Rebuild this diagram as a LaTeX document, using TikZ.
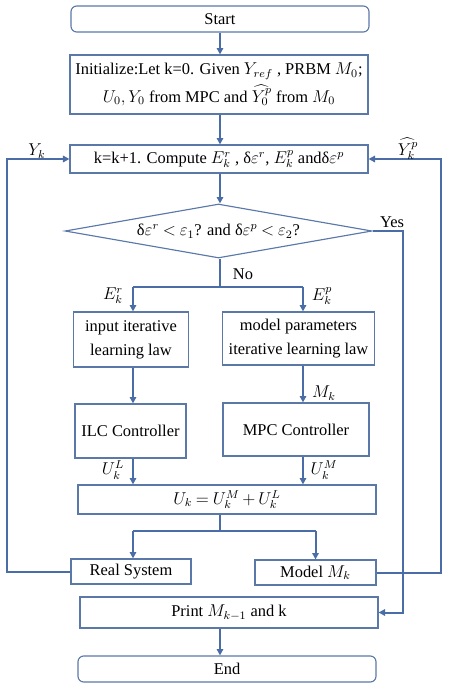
\documentclass[tikz,border=0pt]{standalone}
\usepackage{fontspec}
\setmainfont{Liberation Serif}
\usepackage{tikz}
\usetikzlibrary{arrows.meta, positioning, calc, shapes.geometric}
\definecolor{flow}{HTML}{4A6DA7}
\definecolor{frame}{HTML}{5A78A8}
\newcommand{\tightmath}{\thickmuskip=4mu\relax\medmuskip=3mu\relax}

\begin{document}
\begin{tikzpicture}[x=0.7pt, y=-0.7pt,
  box/.style={draw=frame, line width=0.8pt, align=center, inner sep=1pt, font=\fontsize{11.5}{19}\selectfont},
  term/.style={box, rounded corners=4pt},
  arr/.style={draw=flow, line width=1.4pt, -{Triangle[width=4.5pt,length=4.5pt]}},
  lne/.style={draw=flow, line width=1.4pt},
  lbl/.style={font=\fontsize{11.5}{13}\selectfont, inner sep=0pt}
]
\useasboundingbox (0,0) rectangle (448,688);
% main column
\node[term, minimum width=208.6pt, minimum height=18.2pt] (start) at (220,19) {Start};
\node[box, minimum width=208.6pt, minimum height=41.3pt] (init) at (219,84.5) {Initialize:Let k=0. Given $Y_{ref}$ , PRBM $M_0$;\\$U_0,Y_0$ from MPC and $\widehat{Y_0^p}$ from $M_0$};
\node[box, minimum width=208.6pt, minimum height=19.6pt] (comp) at (219,159) {k=k+1. Compute $E_k^r$ , δ$\varepsilon^r$, $E_k^p$ andδ$\varepsilon^p$};
\node[box, diamond, aspect=5.7, inner sep=0pt, minimum width=214.9pt, minimum height=37.8pt] (dec) at (218.5,231) {\tightmath δ$\varepsilon^r<\varepsilon_1$? and δ$\varepsilon^p<\varepsilon_2$?};
% two branches
\node[box, minimum width=80.5pt, minimum height=38.5pt] (lawu) at (131,339.5) {input iterative\\[-2pt]learning law};
\node[box, minimum width=106.4pt, minimum height=37.1pt] (lawm) at (298.5,338.5) {model parameters\\[-2pt]iterative learning law};
\node[box, minimum width=77.7pt, minimum height=37.8pt] (ilc) at (130.5,431) {ILC Controller};
\node[box, minimum width=102.2pt, minimum height=37.1pt] (mpc) at (296,429.5) {MPC Controller};
\node[box, minimum width=208.6pt, minimum height=20.3pt] (sum) at (227,499.5) {\tightmath $U_k=U_k^M+U_k^L$};
\node[box, minimum width=84pt, minimum height=17.5pt] (real) at (131,571.5) {Real System};
\node[box, minimum width=84.7pt, minimum height=17.5pt] (model) at (315.5,572.5) {Model $M_k$};
\node[box, minimum width=208.6pt, minimum height=21.7pt] (print) at (229,612.5) {Print $M_{k-1}$ and k};
\node[term, minimum width=208.6pt, minimum height=18.2pt] (end) at (227,669) {End};
% split points
\coordinate (splitA) at (220,287);
\coordinate (colL) at (133,287);
\coordinate (colR) at (303,287);
\coordinate (splitB) at (220,531);
% connectors
\draw[arr] (start.south) -- (start.south |- init.north);
\draw[arr] (init.south -| start) -- (comp.north -| start);
\draw[arr] (comp.south -| start) -- (dec.north -| start);
\draw[lne] (dec.south -| start) -- (splitA);
\draw[lne] (colL) -- (colR);
\draw[arr] (colL) -- (colL |- lawu.north);
\draw[arr] (colR) -- (colR |- lawm.north);
\draw[arr] (lawu.south -| colL) -- (ilc.north -| colL);
\draw[arr] (lawm.south -| colR) -- (mpc.north -| colR);
\draw[arr] (ilc.south -| colL) -- (sum.north -| colL);
\draw[arr] (mpc.south -| colR) -- (sum.north -| colR);
\draw[lne] (sum.south -| start) -- (splitB);
\draw[lne] (splitB -| colL) -- (splitB -| model);
\draw[arr] (splitB -| colL) -- (real.north -| colL);
\draw[arr] (splitB -| model) -- (model.north);
\draw[arr] (real.west) -- (7,571.5) |- (comp.west);
\draw[arr] (model.east) -- (441,572.5) |- (comp.east);
\draw[arr] (dec.east) -| ($(print.east)+(24,0)$) -- (print.east);
\draw[arr] (print.south -| start) -- (end.north -| start);
% labels
\node[lbl] (ykl) at (37,151) {$Y_k$};
\node[lbl] (ykp) at (408,149) {$\widehat{Y_k^p}$};
\node[lbl] (yes) at (392,222) {Yes};
\node[lbl] (no) at (243,274) {No};
\node[lbl] (erk) at (113,296) {$E_k^r$};
\node[lbl] (epk) at (322,296) {$E_k^p$};
\node[lbl] (mk) at (324,393) {$M_k$};
\node[lbl] (ulk) at (113,470) {$U_k^L$};
\node[lbl] (umk) at (324,470) {$U_k^M$};
\end{tikzpicture}
\end{document}
